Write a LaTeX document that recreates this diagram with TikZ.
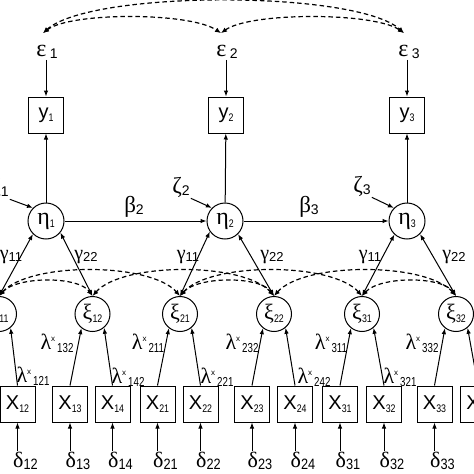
\documentclass[tikz,border=0pt]{standalone}
\usepackage{fontspec}
\usepackage{graphicx}
\setmainfont{Liberation Sans}
\newfontfamily\grk{Liberation Serif}
\usetikzlibrary{arrows.meta}
\newcommand\gk[2][24]{{\grk\fontsize{#1}{#1}\selectfont #2}}
\newcommand\lsub[1]{\raisebox{-3pt}{\scalebox{0.8}[1]{\fontsize{11}{11}\selectfont #1}}}
\newcommand\msub[1]{\raisebox{-2pt}{\fontsize{14}{14}\selectfont #1}}
\newcommand\dsub[1]{\raisebox{-2pt}{\scalebox{0.85}[1]{\fontsize{15}{15}\selectfont #1}}}
\newcommand\lam[1]{{\grk\fontsize{22}{22}\selectfont λ}\raisebox{8pt}{\fontsize{8}{8}\selectfont x}\hspace{2pt}\raisebox{-3pt}{\scalebox{0.75}[1]{\fontsize{13}{13}\selectfont #1}}}
\newcommand\gam[1]{{\grk\fontsize{20}{20}\selectfont γ}\raisebox{-2pt}{\fontsize{13}{13}\selectfont #1}}
\begin{document}
\begin{tikzpicture}[x=1pt,y=-1pt,
  font=\fontsize{20}{22}\selectfont,
  obs/.style={draw, line width=1pt, minimum width=35pt, minimum height=36pt, inner sep=0pt},
  etan/.style={draw, circle, line width=1pt, minimum size=36pt, inner sep=0pt},
  xin/.style={draw, circle, line width=1pt, minimum size=35pt, inner sep=0pt},
  lbl/.style={inner sep=1pt},
  arr/.style={-{Latex[length=6pt,width=4.5pt]}, line width=1pt},
  barr/.style={{Latex[length=6pt,width=4.5pt]}-{Latex[length=6pt,width=4.5pt]}, line width=1pt},
  cov/.style={{Latex[length=6pt,width=5pt]}-{Latex[length=6pt,width=5pt]}, line width=1.2pt, dash pattern=on 4.5pt off 3pt},
]
\useasboundingbox (0,0) rectangle (474,474);
\clip (0,0) rectangle (474,474);

% epsilon labels
\node[lbl] (eps1) at (47,52) {\gk{ε}\,\msub{1}};
\node[lbl] (eps2) at (227,52) {\gk{ε}\,\msub{2}};
\node[lbl] (eps3) at (409,52) {\gk{ε}\,\msub{3}};
\coordinate (e1t) at ([xshift=-4pt,yshift=11pt]eps1.north);
\coordinate (e2t) at ([xshift=-6pt,yshift=11pt]eps2.north);
\coordinate (e3t) at ([xshift=-5pt,yshift=11pt]eps3.north);

% y boxes
\node[obs] (y1) at (46,115) {y\lsub{1}};
\node[obs] (y2) at (226,115) {y\lsub{2}};
\node[obs] (y3) at (407,115) {y\lsub{3}};

% eta
\node[etan] (eta1) at (46,221) {\gk{η}\lsub{1}};
\node[etan] (eta2) at (225,221) {\gk{η}\lsub{2}};
\node[etan] (eta3) at (407,221) {\gk{η}\lsub{3}};

% zeta, beta
\node[lbl] (zeta1) at (0,188) {\gk[23]{ζ}\msub{1}};
\node[lbl] (zeta2) at (181,187) {\gk[23]{ζ}\msub{2}};
\node[lbl] (zeta3) at (362,186) {\gk[23]{ζ}\msub{3}};
\node[lbl] (beta2) at (134,207) {\gk[23]{β}\msub{2}};
\node[lbl] (beta3) at (309,207) {\gk[23]{β}\msub{3}};

% gamma labels
\node[lbl] (g1a) at (11,257) {\gam{11}};
\node[lbl] (g1b) at (86,257) {\gam{22}};
\node[lbl] (g2a) at (188,257) {\gam{11}};
\node[lbl] (g2b) at (272,257) {\gam{22}};
\node[lbl] (g3a) at (370,257) {\gam{11}};
\node[lbl] (g3b) at (454,257) {\gam{22}};

% xi
\node[xin] (xi11) at (-1,314) {\gk[22]{ξ}\lsub{11}};
\node[xin] (xi12) at (92.5,314) {\gk[22]{ξ}\lsub{12}};
\node[xin] (xi21) at (180,314) {\gk[22]{ξ}\lsub{21}};
\node[xin] (xi22) at (274,314) {\gk[22]{ξ}\lsub{22}};
\node[xin] (xi31) at (362,314) {\gk[22]{ξ}\lsub{31}};
\node[xin] (xi32) at (456,314) {\gk[22]{ξ}\lsub{32}};

% X boxes
\node[obs] (x12) at (17.5,404) {X\lsub{12}};
\node[obs] (x13) at (70,404) {X\lsub{13}};
\node[obs] (x14) at (112.5,404) {X\lsub{14}};
\node[obs] (x21) at (157.5,404) {X\lsub{21}};
\node[obs] (x22) at (200.5,404) {X\lsub{22}};
\node[obs] (x23) at (252,404) {X\lsub{23}};
\node[obs] (x24) at (295,404) {X\lsub{24}};
\node[obs] (x31) at (340,404) {X\lsub{31}};
\node[obs] (x32) at (384,404) {X\lsub{32}};
\node[obs] (x33) at (434.5,404) {X\lsub{33}};
\node[obs] (x34) at (478,404) {X\lsub{34}};

% delta labels
\node[lbl] (d12) at (25.5,461) {\gk[22]{δ}\dsub{12}};
\node[lbl] (d13) at (78,461) {\gk[22]{δ}\dsub{13}};
\node[lbl] (d14) at (120.5,461) {\gk[22]{δ}\dsub{14}};
\node[lbl] (d21) at (165.5,461) {\gk[22]{δ}\dsub{21}};
\node[lbl] (d22) at (208.5,461) {\gk[22]{δ}\dsub{22}};
\node[lbl] (d23) at (260,461) {\gk[22]{δ}\dsub{23}};
\node[lbl] (d24) at (303,461) {\gk[22]{δ}\dsub{24}};
\node[lbl] (d31) at (348,461) {\gk[22]{δ}\dsub{31}};
\node[lbl] (d32) at (392,461) {\gk[22]{δ}\dsub{32}};
\node[lbl] (d33) at (442.5,461) {\gk[22]{δ}\dsub{33}};

% lambda labels
\node[lbl] (l121) at (33,376) {\lam{121}};
\node[lbl] (l132) at (57,343) {\lam{132}};
\node[lbl] (l142) at (128,377) {\lam{142}};
\node[lbl] (l211) at (148,343) {\lam{211}};
\node[lbl] (l221) at (217,377) {\lam{221}};
\node[lbl] (l232) at (242,343) {\lam{232}};
\node[lbl] (l242) at (314,377) {\lam{242}};
\node[lbl] (l311) at (331,343) {\lam{311}};
\node[lbl] (l321) at (400,377) {\lam{321}};
\node[lbl] (l332) at (422,343) {\lam{332}};

% epsilon -> y, eta -> y
\foreach \i in {1,2,3}{
  \draw[arr] (y\i.north |- eps\i.south) -- (y\i.north);
  \draw[arr] (eta\i) -- (y\i);
  \draw[arr] (zeta\i.south east) -- (eta\i.135);
}
\draw[arr] (eta1) -- (eta2);
\draw[arr] (eta2) -- (eta3);

% gamma
\draw[barr] (eta1.225) -- (xi11.north);
\draw[barr] (eta1.-39) -- (xi12.north);
\draw[barr] (eta2.215) -- (xi21.north);
\draw[barr] (eta2.-45) -- (xi22.north);
\draw[barr] (eta3.227) -- (xi31.north);
\draw[barr] (eta3.-45) -- (xi32.north);

% X -> xi
\draw[arr] (x12.north) -- (xi11.310);
\draw[arr] (x13.north) -- (xi12.232);
\draw[arr] (x14.north) -- (xi12.310);
\draw[arr] (x21.north) -- (xi21.232);
\draw[arr] (x22.north) -- (xi21.310);
\draw[arr] (x23.north) -- (xi22.232);
\draw[arr] (x24.north) -- (xi22.310);
\draw[arr] (x31.north) -- (xi31.232);
\draw[arr] (x32.north) -- (xi31.310);
\draw[arr] (x33.north) -- (xi32.232);
\draw[arr] (x34.north) -- (xi32.310);

% delta -> X
\foreach \a in {12,13,14,21,22,23,24,31,32,33}{
  \draw[arr] (x\a.south |- d\a.north) -- (x\a.south);
}

% covariances top
\draw[cov] (e1t) .. controls (90,-10) and (357,-10) .. (e3t);
\draw[cov] (e1t) .. controls (70,12) and (190,12) .. (e2t);
\draw[cov] (e2t) .. controls (250,12) and (374,12) .. (e3t);

% covariances among xi
\draw[cov] (xi11.north) .. controls +(18,-20) and +(-14,-20) .. (xi12.north);
\draw[cov] (xi21.north) .. controls +(18,-20) and +(-14,-20) .. (xi22.north);
\draw[cov] (xi31.north) .. controls +(18,-20) and +(-14,-20) .. (xi32.north);
\draw[cov] (xi11.north) .. controls +(30,-34) and +(-30,-34) .. (xi21.north);
\draw[cov] (xi12.north) .. controls +(30,-34) and +(-30,-34) .. (xi22.north);
\draw[cov] (xi21.north) .. controls +(30,-34) and +(-30,-34) .. (xi31.north);
\draw[cov] (xi22.north) .. controls +(30,-34) and +(-30,-34) .. (xi32.north);
\end{tikzpicture}
\end{document}
